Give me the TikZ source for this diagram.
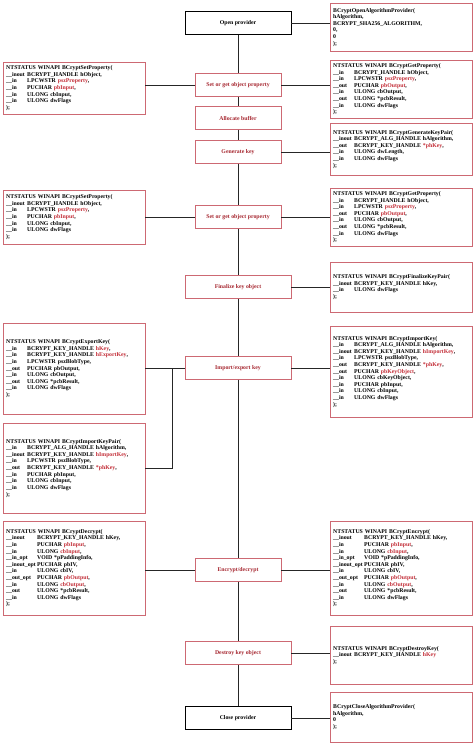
\documentclass[tikz,border=0pt]{standalone}
\usepackage{fontspec}
\setmainfont{Liberation Serif}
\usetikzlibrary{positioning}
\definecolor{boxRed}{RGB}{205,105,115}
\definecolor{parRed}{RGB}{195,45,55}
\newcommand{\rp}[1]{\textcolor{parRed}{#1}}
\newcommand{\io}[1]{\makebox[21pt][l]{\_\_#1}}
\newcommand{\iow}[1]{\makebox[31pt][l]{\_\_#1}}

\begin{document}
\begin{tikzpicture}[x=1pt,y=-1pt,
  stage/.style={rectangle,draw=boxRed,fill=white,align=center,
                minimum height=23pt,font=\fontsize{5.8}{7}\selectfont\bfseries,
                text=parRed!85!black},
  term/.style={stage,draw=black,text=black},
  code/.style={rectangle,draw=boxRed,fill=white,anchor=north west,align=left,
               minimum width=142pt,text width=136pt,inner xsep=3pt,
               font=\fontsize{5.8}{6.6}\selectfont\bfseries},
  link/.style={line width=0.8pt,black!85}
]
  \useasboundingbox (0,0) rectangle (474,746);

  % main steps
  \node[term,minimum width=106pt] (open)    at (238,23)  {Open provider};
  \node[stage,minimum width=86pt] (set1)    at (238,85)  {Set or get object property};
  \node[stage,minimum width=86pt] (alloc)   at (238,118) {Allocate buffer};
  \node[stage,minimum width=86pt] (genkey)  at (238,152) {Generate key};
  \node[stage,minimum width=86pt] (set2)    at (238,217) {Set or get object property};
  \node[stage,minimum width=106pt](final)   at (238,287) {Finalize key object};
  \node[stage,minimum width=106pt](impexp)  at (238,368) {Import/export key};
  \node[stage,minimum width=86pt] (encdec)  at (238,570) {Encrypt/decrypt};
  \node[stage,minimum width=106pt](destroy) at (238,653) {Destroy key object};
  \node[term,minimum width=106pt] (close)   at (238,718) {Close provider};

  % api calls
  \node[code,minimum height=48pt] (openR) at (330,3) {BCryptOpenAlgorithmProvider(\\
    hAlgorithm,\\ BCRYPT\_SHA256\_ALGORITHM,\\ 0,\\ 0\\ );};
  \node[code,minimum height=52pt] (setL1) at (3,62) {NTSTATUS WINAPI BCryptSetProperty(\\
    \io{inout}BCRYPT\_HANDLE hObject,\\
    \io{in}LPCWSTR \rp{pszProperty},\\
    \io{in}PUCHAR \rp{pbInput},\\
    \io{in}ULONG cbInput,\\
    \io{in}ULONG dwFlags\\ );};
  \node[code,minimum height=53pt] (getR1) at (330,60) {NTSTATUS WINAPI BCryptGetProperty(\\
    \io{in}BCRYPT\_HANDLE hObject,\\
    \io{in}LPCWSTR \rp{pszProperty},\\
    \io{out}PUCHAR \rp{pbOutput},\\
    \io{in}ULONG cbOutput,\\
    \io{out}ULONG *pcbResult,\\
    \io{in}ULONG dwFlags\\ );};
  \node[code,minimum height=52pt] (genR) at (330,123) {NTSTATUS WINAPI BCryptGenerateKeyPair(\\
    \io{inout}BCRYPT\_ALG\_HANDLE hAlgorithm,\\
    \io{out}BCRYPT\_KEY\_HANDLE \rp{*phKey},\\
    \io{in}ULONG dwLength,\\
    \io{in}ULONG dwFlags\\ );};
  \node[code,minimum height=54pt] (setL2) at (3,190) {NTSTATUS WINAPI BCryptSetProperty(\\
    \io{inout}BCRYPT\_HANDLE hObject,\\
    \io{in}LPCWSTR \rp{pszProperty},\\
    \io{in}PUCHAR \rp{pbInput},\\
    \io{in}ULONG cbInput,\\
    \io{in}ULONG dwFlags\\ );};
  \node[code,minimum height=54pt] (getR2) at (330,188) {NTSTATUS WINAPI BCryptGetProperty(\\
    \io{in}BCRYPT\_HANDLE hObject,\\
    \io{in}LPCWSTR \rp{pszProperty},\\
    \io{out}PUCHAR \rp{pbOutput},\\
    \io{in}ULONG cbOutput,\\
    \io{out}ULONG *pcbResult,\\
    \io{in}ULONG dwFlags\\ );};
  \node[code,minimum height=50pt] (finR) at (330,262) {NTSTATUS WINAPI BCryptFinalizeKeyPair(\\
    \io{inout}BCRYPT\_KEY\_HANDLE hKey,\\
    \io{in}ULONG dwFlags\\ );};
  \node[code,minimum height=91pt] (expL) at (3,323) {NTSTATUS WINAPI BCryptExportKey(\\
    \io{in}BCRYPT\_KEY\_HANDLE \rp{hKey},\\
    \io{in}BCRYPT\_KEY\_HANDLE \rp{hExportKey},\\
    \io{in}LPCWSTR pszBlobType,\\
    \io{out}PUCHAR pbOutput,\\
    \io{in}ULONG cbOutput,\\
    \io{out}ULONG *pcbResult,\\
    \io{in}ULONG dwFlags\\ );};
  \node[code,minimum height=90pt] (ikpL) at (3,423) {NTSTATUS WINAPI BCryptImportKeyPair(\\
    \io{in}BCRYPT\_ALG\_HANDLE hAlgorithm,\\
    \io{inout}BCRYPT\_KEY\_HANDLE \rp{hImportKey},\\
    \io{in}LPCWSTR pszBlobType,\\
    \io{out}BCRYPT\_KEY\_HANDLE \rp{*phKey},\\
    \io{in}PUCHAR pbInput,\\
    \io{in}ULONG cbInput,\\
    \io{in}ULONG dwFlags\\ );};
  \node[code,minimum height=91pt] (impR) at (330,326) {NTSTATUS WINAPI BCryptImportKey(\\
    \io{in}BCRYPT\_ALG\_HANDLE hAlgorithm,\\
    \io{inout}BCRYPT\_KEY\_HANDLE \rp{hImportKey},\\
    \io{in}LPCWSTR pszBlobType,\\
    \io{out}BCRYPT\_KEY\_HANDLE \rp{*phKey},\\
    \io{out}PUCHAR \rp{pbKeyObject},\\
    \io{in}ULONG cbKeyObject,\\
    \io{in}PUCHAR pbInput,\\
    \io{in}ULONG cbInput,\\
    \io{in}ULONG dwFlags\\ );};
  \node[code,minimum height=94pt] (decL) at (3,521) {NTSTATUS WINAPI BCryptDecrypt(\\
    \iow{inout}BCRYPT\_KEY\_HANDLE hKey,\\
    \iow{in}PUCHAR \rp{pbInput},\\
    \iow{in}ULONG \rp{cbInput},\\
    \iow{in\_opt}VOID *pPaddingInfo,\\
    \iow{inout\_opt}PUCHAR pbIV,\\
    \iow{in}ULONG cbIV,\\
    \iow{out\_opt}PUCHAR \rp{pbOutput},\\
    \iow{in}ULONG \rp{cbOutput},\\
    \iow{out}ULONG *pcbResult,\\
    \iow{in}ULONG dwFlags\\ );};
  \node[code,minimum height=94pt] (encR) at (330,521) {NTSTATUS WINAPI BCryptEncrypt(\\
    \iow{inout}BCRYPT\_KEY\_HANDLE hKey,\\
    \iow{in}PUCHAR \rp{pbInput},\\
    \iow{in}ULONG \rp{cbInput},\\
    \iow{in\_opt}VOID *pPaddingInfo,\\
    \iow{inout\_opt}PUCHAR pbIV,\\
    \iow{in}ULONG cbIV,\\
    \iow{out\_opt}PUCHAR \rp{pbOutput},\\
    \iow{in}ULONG \rp{cbOutput},\\
    \iow{out}ULONG *pcbResult,\\
    \iow{in}ULONG dwFlags\\ );};
  \node[code,minimum height=58pt] (desR) at (330,626) {NTSTATUS WINAPI BCryptDestroyKey(\\
    \io{inout}BCRYPT\_KEY\_HANDLE \rp{hKey}\\ );};
  \node[code,minimum height=50pt] (cloR) at (330,692) {BCryptCloseAlgorithmProvider(\\
    hAlgorithm,\\ 0\\ );};

  % spine
  \draw[link](open)--(set1)--(alloc)--(genkey)--(set2)--(final)--(impexp)
             --(encdec)--(destroy)--(close);

  % side links
  \draw[link](open.east)--(open.east -| openR.west);
  \draw[link](set1.west)--(set1.west -| setL1.east);
  \draw[link](set1.east)--(set1.east -| getR1.west);
  \draw[link](genkey.east)--(genkey.east -| genR.west);
  \draw[link](set2.west)--(set2.west -| setL2.east);
  \draw[link](set2.east)--(set2.east -| getR2.west);
  \draw[link](final.east)--(final.east -| finR.west);
  \coordinate (brkT) at (172,368);
  \coordinate (brkB) at (172,468);
  \draw[link](expL.east |- brkT)--(brkT)--(brkB)--(ikpL.east |- brkB);
  \draw[link](impexp.west)--(impexp.west -| brkT);
  \draw[link](impexp.east)--(impexp.east -| impR.west);
  \draw[link](encdec.west)--(encdec.west -| decL.east);
  \draw[link](encdec.east)--(encdec.east -| encR.west);
  \draw[link](destroy.east)--(destroy.east -| desR.west);
  \draw[link](close.east)--(close.east -| cloR.west);
\end{tikzpicture}
\end{document}
